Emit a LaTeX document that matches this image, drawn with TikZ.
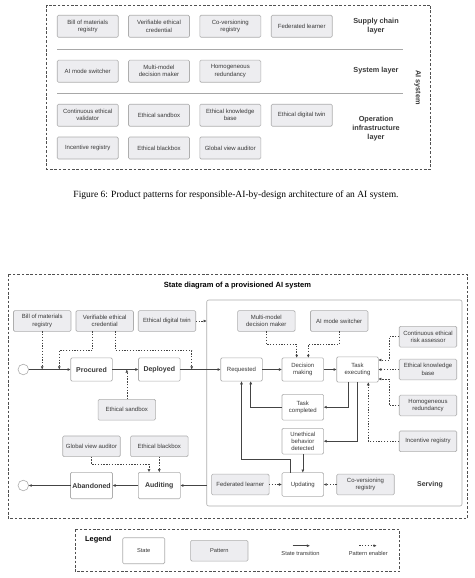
\documentclass[tikz,border=0pt]{standalone}
\usepackage{fontspec}
\setmainfont{Liberation Sans}
\newfontfamily\capfont{Liberation Serif}
\usetikzlibrary{arrows.meta}
\definecolor{patfill}{HTML}{EDEDF0}
\definecolor{bordc}{HTML}{AEAEAE}
\definecolor{linec}{HTML}{444444}
\definecolor{txt}{HTML}{3A3A3A}
\definecolor{sepc}{HTML}{A8A8A8}
\definecolor{dashc}{HTML}{505050}
\tikzset{
  boxbase/.style={draw=bordc, line width=0.6pt, rounded corners=1.3pt, align=center, text=txt, inner sep=1pt, outer sep=0pt},
  pat/.style={boxbase, fill=patfill, font=\fontsize{6}{7.3}\selectfont, minimum width=57.5pt, minimum height=20.7pt},
  toppat/.style={boxbase, fill=patfill, font=\fontsize{6}{7.3}\selectfont, minimum width=61pt, minimum height=22pt},
  stbox/.style={boxbase, fill=white, minimum width=41.6pt, minimum height=23.3pt},
  bigtxt/.style={font=\fontsize{7}{8.4}\selectfont\bfseries},
  smtxt/.style={font=\fontsize{6}{7.3}\selectfont},
  lbl/.style={font=\fontsize{7.3}{8.6}\selectfont\bfseries, text=txt, align=center, inner sep=0pt},
  st/.style={draw=linec, line width=0.5pt, -{Latex[length=3.1pt,width=2.8pt]}},
  pe/.style={st, dash pattern=on 1.3pt off 1.5pt},
  outerdash/.style={draw=dashc, line width=0.8pt, dash pattern=on 2.6pt off 1.8pt},
  sepline/.style={draw=sepc, line width=0.9pt},
  endcirc/.style={circle, draw=bordc, line width=0.6pt, fill=white, minimum size=10.6pt, inner sep=0pt, outer sep=0pt},
}
\begin{document}
\begin{tikzpicture}[x=1pt,y=-1pt]
\useasboundingbox[fill=white] (0,0) rectangle (474,578);

% ---------------- Top figure ----------------
\draw[outerdash] (46.7,5) rectangle (430.7,169);
\node[toppat] (t1) at (87.7,26.3) {Bill of materials\\registry};
\node[toppat] (t2) at (159,26.3) {Verifiable ethical\\credential};
\node[toppat] (t3) at (230.3,26.3) {Co-versioning\\registry};
\node[toppat] (t4) at (301.7,26.3) {Federated learner};
\draw[sepline] (57.3,49) -- (402.7,49);
\node[toppat] (t5) at (87.7,71.2) {AI mode switcher};
\node[toppat] (t6) at (159,71.2) {Multi-model\\decision maker};
\node[toppat] (t7) at (230.3,71.2) {Homogeneous\\redundancy};
\draw[sepline] (57.3,93.3) -- (402.7,93.3);
\node[toppat] (t8) at (87.7,115.2) {Continuous ethical\\validator};
\node[toppat] (t9) at (159,115.2) {Ethical sandbox};
\node[toppat] (t10) at (230.3,115.2) {Ethical knowledge\\base};
\node[toppat] (t11) at (301.7,115.2) {Ethical digital twin};
\node[toppat] (t12) at (87.7,148) {Incentive registry};
\node[toppat] (t13) at (159,148) {Ethical blackbox};
\node[toppat] (t14) at (230.3,148) {Global view auditor};
\node[lbl] (l1) at (376,26.3) {Supply chain\\layer};
\node[lbl] (l2) at (376,70.5) {System layer};
\node[lbl] (l3) at (376,128.6) {Operation\\infrastructure\\layer};
\node[lbl, rotate=-90] (l4) at (417.7,87.7) {AI system};

\node[font=\capfont\fontsize{9.5}{11}\selectfont, text=black, inner sep=0pt] (cap) at (236,195.3)
  {Figure 6: Product patterns for responsible-AI-by-design architecture of an AI system.};

% ---------------- Bottom figure ----------------
\draw[outerdash] (8,274.3) rectangle (467.3,518.3);
\node[font=\fontsize{7.5}{9}\selectfont\bfseries, text=black, inner sep=0pt] (title) at (237.5,285.7) {State diagram of a provisioned AI system};
\node[draw=bordc, line width=0.6pt, rounded corners=2pt, minimum width=255.3pt, minimum height=206pt, inner sep=0pt, outer sep=0pt] (serving) at (334.35,403) {};
\node[lbl, font=\fontsize{7}{8.4}\selectfont\bfseries] (servlbl) at (430,484.7) {Serving};

% patterns
\node[pat] (bom) at (42.2,321) {Bill of materials\\registry};
\node[pat] (vec) at (104.7,321) {Verifiable ethical\\credential};
\node[pat] (edt) at (167,321) {Ethical digital twin};
\node[pat] (sb) at (126.8,409.7) {Ethical sandbox};
\node[pat] (mmdm) at (266.3,321) {Multi-model\\decision maker};
\node[pat] (aims) at (339.2,321) {AI mode switcher};
\node[pat] (cera) at (428,336.7) {Continuous ethical\\risk assessor};
\node[pat] (ekb) at (428,369.5) {Ethical knowledge\\base};
\node[pat] (hr) at (428,405.5) {Homogeneous\\redundancy};
\node[pat] (ir) at (428,441.3) {Incentive registry};
\node[pat] (fl) at (240.3,484.5) {Federated learner};
\node[pat] (cvr) at (365.5,484.5) {Co-versioning\\registry};
\node[pat] (gva) at (91.5,446.3) {Global view auditor};
\node[pat] (eb) at (159.3,446.3) {Ethical blackbox};

% states
\node[endcirc] (init) at (23.3,369.5) {};
\node[stbox, bigtxt] (proc) at (91.5,369.5) {Procured};
\node[stbox, bigtxt] (depl) at (159.3,369.5) {Deployed};
\node[stbox, smtxt] (req) at (241.5,369.5) {Requested};
\node[stbox, smtxt] (dm) at (302.8,369.5) {Decision\\making};
\node[stbox, smtxt, minimum height=25.3pt] (te) at (357.5,369.5) {Task\\executing};
\node[stbox, smtxt, minimum height=25.7pt] (tc) at (302.8,407.2) {Task\\completed};
\node[stbox, smtxt, minimum height=25.7pt] (ubd) at (302.8,441.2) {Unethical\\behavior\\detected};
\node[stbox, smtxt, minimum height=23.7pt] (upd) at (302.8,484.5) {Updating};
\node[stbox, bigtxt, minimum width=42pt, minimum height=26.4pt] (aud) at (159.3,485.5) {Auditing};
\node[stbox, bigtxt, minimum width=42pt, minimum height=26.4pt] (aban) at (91.5,485.5) {Abandoned};
\node[endcirc] (fin) at (23.3,485.5) {};

% state transitions
\draw[st] (init) -- (proc);
\draw[st] (proc) -- (depl);
\draw[st] (depl) -- (req);
\draw[st] (req) -- (dm);
\draw[st] (dm) -- (te);
\draw[st] ([xshift=-9.2pt]te.south) |- (tc.east);
\draw[st] (tc.west) -| ([xshift=9.2pt]req.south);
\draw[st] (te.south) |- (ubd.east);
\draw[st] (ubd.south) -- (upd.north);
\coordinate (uj) at (241.5,459);
\draw[st] ([xshift=-12.8pt]upd.north) |- (uj) -- (req.south);
\draw[st] (serving.west |- aud.east) -- (aud.east);
\draw[st] (aud) -- (aban);
\draw[st] (aban) -- (fin);

% pattern enablers
\draw[pe] (bom.south) -- (bom.south |- init.east);
\coordinate (vecL) at (59.3,350.7);
\coordinate (vecR) at (191.7,350.7);
\draw[pe] ([xshift=-12pt]vec.south) |- (vecL) -- (vecL |- init.east);
\draw[pe] ([xshift=11pt]vec.south) |- (vecR) -- (vecR |- depl.east);
\draw[pe] (sb.north) -- (sb.north |- proc.east);
\draw[pe] (edt.east) -- (edt.east -| serving.west);
\coordinate (mmj) at (296.7,344.3);
\coordinate (amj) at (308.3,344.3);
\draw[pe] (mmdm.south) |- (mmj) -- (mmj |- dm.north);
\draw[pe] (aims.south) |- (amj) -- (amj |- dm.north);
\coordinate (cj) at (389,360);
\coordinate (hj) at (389,379);
\draw[pe] (cera.west) -| (cj) -- (cj -| te.east);
\draw[pe] (ekb.west) -- (ekb.west -| te.east);
\draw[pe] (hr.west) -| (hj) -- (hj -| te.east);
\draw[pe] (ir.west) -| ([xshift=10.8pt]te.south);
\draw[pe] (fl.east) -- (fl.east -| upd.west);
\draw[pe] (cvr.west) -- (cvr.west -| upd.east);
\coordinate (gj) at (149,464.3);
\draw[pe] (gva.south) |- (gj) -- (gj |- aud.north);
\draw[pe] (eb.south) -- (aud.north);

% ---------------- Legend ----------------
\draw[outerdash] (75,529.7) rectangle (399.7,571.7);
\node[font=\fontsize{7.4}{9}\selectfont\bfseries, text=black, inner sep=0pt] (leg) at (98.3,539.3) {Legend};
\node[stbox, smtxt, minimum width=42pt, minimum height=26pt, font=\fontsize{5.7}{7}\selectfont] (lst) at (143.7,550.7) {State};
\node[pat, font=\fontsize{5.7}{7}\selectfont, minimum width=57.3pt] (lpat) at (219.3,550.7) {Pattern};
\coordinate (ls1) at (292.7,545.7);
\coordinate (ls2) at (310,545.7);
\coordinate (lp1) at (359.3,545.7);
\coordinate (lp2) at (376.7,545.7);
\draw[st] (ls1) -- (ls2);
\draw[pe] (lp1) -- (lp2);
\node[font=\fontsize{5.7}{7}\selectfont, text=txt, inner sep=0pt] (lstl) at (300.5,553.3) {State transition};
\node[font=\fontsize{5.7}{7}\selectfont, text=txt, inner sep=0pt] (lpel) at (368.3,553.3) {Pattern enabler};
\end{tikzpicture}
\end{document}
